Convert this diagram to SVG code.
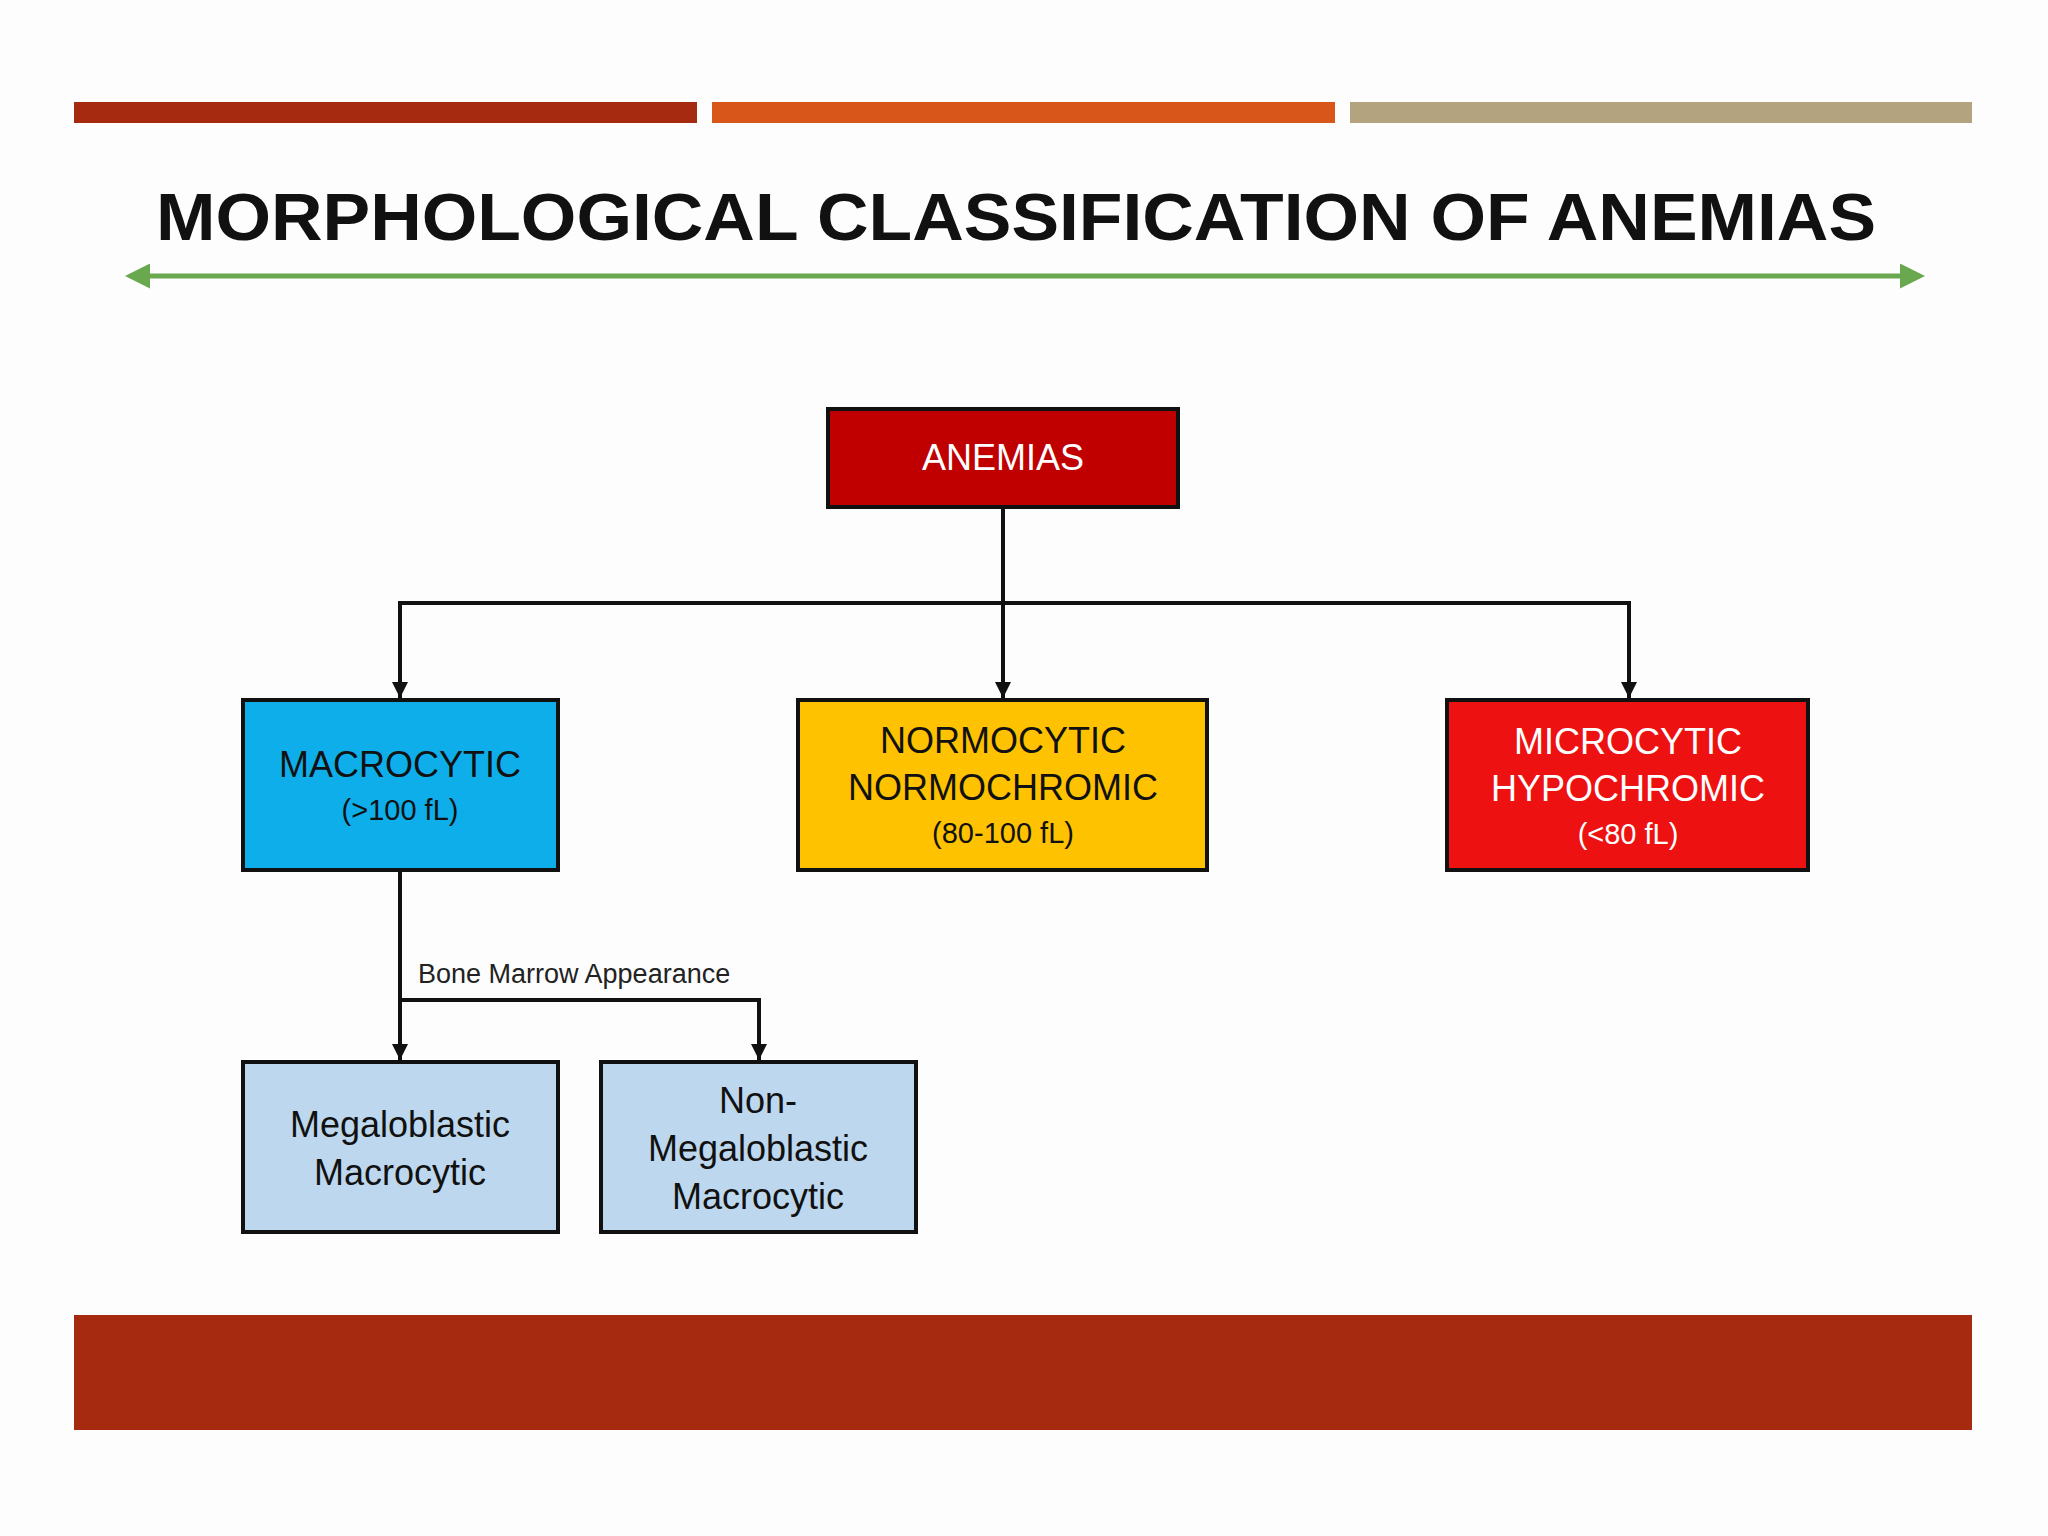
<svg xmlns="http://www.w3.org/2000/svg" width="2048" height="1536" viewBox="0 0 2048 1536">
<style>
.t{font-family:"Liberation Sans",Arial,sans-serif;text-anchor:middle}
.b{stroke:#111;stroke-width:4}
.c{stroke:#111;stroke-width:4;fill:none}
.w{fill:#fff;font-size:36px}
.k{fill:#111;font-size:36px}
.s{font-size:29px}
</style>
<defs>
<marker id="a" viewBox="0 0 10 10" refX="10" refY="5" markerWidth="4" markerHeight="4" orient="auto"><path d="M0,0L10,5L0,10z" fill="#111"/></marker>
<marker id="g" viewBox="0 0 10 10" refX="8" refY="5" markerWidth="5" markerHeight="5" orient="auto-start-reverse"><path d="M0,0L10,5L0,10z" fill="#6aa84f"/></marker>
</defs>
<rect width="2048" height="1536" fill="#fdfdfd"/>
<rect x="74" y="102" width="623" height="21" fill="#a52a10"/>
<rect x="712" y="102" width="623" height="21" fill="#d9561a"/>
<rect x="1350" y="102" width="622" height="21" fill="#b4a37f"/>
<text class="t" x="1016" y="240" font-size="66" font-weight="bold" fill="#111" textLength="1720" lengthAdjust="spacingAndGlyphs">MORPHOLOGICAL CLASSIFICATION OF ANEMIAS</text>
<line x1="130" y1="276" x2="1920" y2="276" stroke="#6aa84f" stroke-width="5" marker-start="url(#g)" marker-end="url(#g)"/>
<g id="connectors">
<line class="c" x1="1003" y1="507" x2="1003" y2="698" marker-end="url(#a)"/>
<polyline class="c" points="400,698 400,603 1629,603 1629,698" marker-end="url(#a)"/>
<line class="c" x1="400" y1="603" x2="400" y2="698" marker-end="url(#a)"/>
<line class="c" x1="400" y1="870" x2="400" y2="1060" marker-end="url(#a)"/>
<polyline class="c" points="400,1000 759,1000 759,1060" marker-end="url(#a)"/>
<text class="t" x="418" y="983" font-size="27" fill="#222" style="text-anchor:start">Bone Marrow Appearance</text>
</g>
<g id="anemias"><rect class="b" x="828" y="409" width="350" height="98" fill="#c00000"/><text class="t w" x="1003" y="470" font-size="40">ANEMIAS</text></g>
<g id="macro"><rect class="b" x="243" y="700" width="315" height="170" fill="#0eaeea"/><text class="t k" x="400" y="777">MACROCYTIC</text><text class="t k s" x="400" y="820">(&gt;100 fL)</text></g>
<g id="normo"><rect class="b" x="798" y="700" width="409" height="170" fill="#fec200"/><text class="t k" x="1003" y="753">NORMOCYTIC</text><text class="t k" x="1003" y="800">NORMOCHROMIC</text><text class="t k s" x="1003" y="843">(80-100 fL)</text></g>
<g id="micro"><rect class="b" x="1447" y="700" width="361" height="170" fill="#ee1111"/><text class="t w" x="1628" y="754">MICROCYTIC</text><text class="t w" x="1628" y="801">HYPOCHROMIC</text><text class="t w s" x="1628" y="844">(&lt;80 fL)</text></g>
<g id="mega"><rect class="b" x="243" y="1062" width="315" height="170" fill="#bdd7ee"/><text class="t k" x="400" y="1137">Megaloblastic</text><text class="t k" x="400" y="1185">Macrocytic</text></g>
<g id="nonmega"><rect class="b" x="601" y="1062" width="315" height="170" fill="#bdd7ee"/><text class="t k" x="758" y="1113">Non-</text><text class="t k" x="758" y="1161">Megaloblastic</text><text class="t k" x="758" y="1209">Macrocytic</text></g>
<rect x="74" y="1315" width="1898" height="115" fill="#a52a10"/>
</svg>
